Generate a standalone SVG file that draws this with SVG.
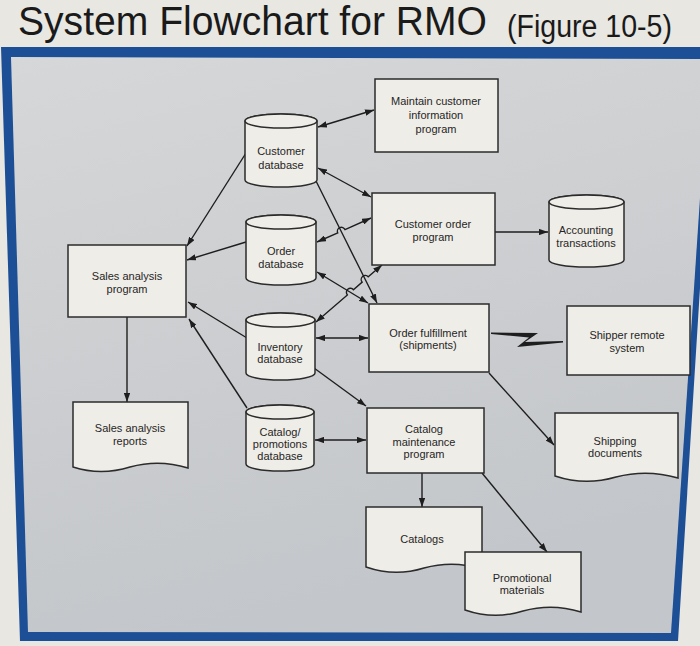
<svg xmlns="http://www.w3.org/2000/svg" width="700" height="646" viewBox="0 0 700 646">
<defs>
<linearGradient id="bg" x1="0" y1="0" x2="0.3" y2="1">
<stop offset="0" stop-color="#d6d7d8"/>
<stop offset="1" stop-color="#c3c6ca"/>
</linearGradient>
<marker id="ah" viewBox="0 0 10 7" refX="10" refY="3.5" markerWidth="9" markerHeight="6.5" markerUnits="userSpaceOnUse" orient="auto-start-reverse">
<path d="M0,0 L10,3.5 L0,7 z" fill="#1e1e1e"/>
</marker>
</defs>
<style>
.box{fill:#efede7;stroke:#2b2b2b;stroke-width:1.5}
.lbl{font-family:"Liberation Sans",Arial,sans-serif;font-size:11px;fill:#262626;text-anchor:middle}
.cn{fill:none;stroke:#1e1e1e;stroke-width:1.4}
.a2{marker-start:url(#ah);marker-end:url(#ah)}
.a1{marker-end:url(#ah)}
</style>
<rect width="700" height="646" fill="#e8e7e2"/>
<polygon points="1,47 700,47 700,288 678,641 20,641" fill="#1c4f96"/>
<polygon points="11,57 700,59 700,198 671,633 28,632" fill="url(#bg)"/>
<text x="18" y="35" font-family="Liberation Sans, Arial, sans-serif" font-size="40" fill="#1a1a1a" textLength="469" lengthAdjust="spacingAndGlyphs">System Flowchart for RMO</text>
<text x="507" y="37" font-family="Liberation Sans, Arial, sans-serif" font-size="31" fill="#1a1a1a" textLength="165" lengthAdjust="spacingAndGlyphs">(Figure 10-5)</text>

<g id="connectors">
<line class="cn a2" x1="318" y1="127" x2="374" y2="110"/>
<line class="cn a2" x1="318" y1="168" x2="371" y2="197"/>
<path class="cn a2" d="M317,242 L337.74,232.92 A4,4 0 0 1 345.06,229.68 L371,218"/>
<line class="cn a1" x1="316" y1="181" x2="377" y2="303"/>
<line class="cn a2" x1="317" y1="272" x2="368" y2="303"/>
<path class="cn a2" d="M316,322 L347.37,294.92 A4,4 0 0 1 353.43,289.68 L362.17,282.12 A4,4 0 0 1 368.23,276.88 L382,265"/>
<line class="cn a2" x1="316" y1="338" x2="368" y2="338"/>
<line class="cn a1" x1="314" y1="368" x2="366" y2="406"/>
<line class="cn a2" x1="315" y1="440" x2="366" y2="440"/>
<line class="cn a1" x1="489" y1="373" x2="554" y2="445"/>
<line class="cn a1" x1="422" y1="473" x2="422" y2="507"/>
<line class="cn a1" x1="482" y1="473" x2="547" y2="552"/>
<line class="cn a1" x1="495" y1="232" x2="548" y2="232"/>
<line class="cn a1" x1="246" y1="153" x2="187" y2="246"/>
<line class="cn a1" x1="246" y1="242" x2="187" y2="260"/>
<line class="cn a1" x1="247" y1="338" x2="188" y2="302"/>
<line class="cn a1" x1="247" y1="408" x2="189" y2="319"/>
<line class="cn a1" x1="127" y1="317" x2="127" y2="402"/>
<polygon points="491,332.5 538,333 525,342 563,341 563,342.5 517,347 529,337.5 491,334" fill="#1e1e1e"/>
</g>

<g id="maintain-customer">
<rect class="box" x="375" y="79" width="123" height="73"/>
<text class="lbl" x="436" y="105">Maintain customer</text>
<text class="lbl" x="436" y="119">information</text>
<text class="lbl" x="436" y="133">program</text>
</g>
<g id="customer-db">
<path class="box" d="M245,121 A36,7 0 0 1 317,121 V180 A36,7 0 0 1 245,180 Z"/>
<ellipse class="box" cx="281" cy="121" rx="36" ry="7"/>
<text class="lbl" x="281" y="155">Customer</text>
<text class="lbl" x="281" y="169">database</text>
</g>
<g id="order-db">
<path class="box" d="M246,222 A35,7 0 0 1 316,222 V278 A35,7 0 0 1 246,278 Z"/>
<ellipse class="box" cx="281" cy="222" rx="35" ry="7"/>
<text class="lbl" x="281" y="255">Order</text>
<text class="lbl" x="281" y="268">database</text>
</g>
<g id="inventory-db">
<path class="box" d="M246,320 A34.5,7 0 0 1 315,320 V373 A34.5,7 0 0 1 246,373 Z"/>
<ellipse class="box" cx="280.5" cy="320" rx="34.5" ry="7"/>
<text class="lbl" x="280" y="351">Inventory</text>
<text class="lbl" x="280" y="363">database</text>
</g>
<g id="catalog-db">
<path class="box" d="M246,412 A34,7 0 0 1 314,412 V464 A34,7 0 0 1 246,464 Z"/>
<ellipse class="box" cx="280" cy="412" rx="34" ry="7"/>
<text class="lbl" x="280" y="436">Catalog/</text>
<text class="lbl" x="280" y="448">promotions</text>
<text class="lbl" x="280" y="460">database</text>
</g>
<g id="sales-program">
<rect class="box" x="68" y="245" width="118" height="72"/>
<text class="lbl" x="127" y="280">Sales analysis</text>
<text class="lbl" x="127" y="293">program</text>
</g>
<g id="sales-reports">
<path class="box" d="M73,402 H188 V468 Q159,459 130,467 Q101,476 73,467 Z"/>
<text class="lbl" x="130" y="432">Sales analysis</text>
<text class="lbl" x="130" y="445">reports</text>
</g>
<g id="customer-order">
<rect class="box" x="372" y="193" width="123" height="72"/>
<text class="lbl" x="433" y="228">Customer order</text>
<text class="lbl" x="433" y="241">program</text>
</g>
<g id="accounting">
<path class="box" d="M549,202 A37.5,7 0 0 1 624,202 V260 A37.5,7 0 0 1 549,260 Z"/>
<ellipse class="box" cx="586.5" cy="202" rx="37.5" ry="7"/>
<text class="lbl" x="586" y="234">Accounting</text>
<text class="lbl" x="586" y="247">transactions</text>
</g>
<g id="order-fulfillment">
<rect class="box" x="369" y="304" width="120" height="68"/>
<text class="lbl" x="428" y="337">Order fulfillment</text>
<text class="lbl" x="428" y="349">(shipments)</text>
</g>
<g id="shipper">
<rect class="box" x="567" y="306" width="123" height="69"/>
<text class="lbl" x="627" y="339">Shipper remote</text>
<text class="lbl" x="627" y="352">system</text>
</g>
<g id="catalog-maintenance">
<rect class="box" x="367" y="408" width="117" height="65"/>
<text class="lbl" x="424" y="433">Catalog</text>
<text class="lbl" x="424" y="446">maintenance</text>
<text class="lbl" x="424" y="458">program</text>
</g>
<g id="shipping-docs">
<path class="box" d="M555,413 H678 V478 Q647,469 616,477 Q585,486 555,476 Z"/>
<text class="lbl" x="615" y="445">Shipping</text>
<text class="lbl" x="615" y="457">documents</text>
</g>
<g id="catalogs">
<path class="box" d="M366,507 H482 V569 Q453,560 424,568 Q395,577 366,567 Z"/>
<text class="lbl" x="422" y="543">Catalogs</text>
</g>
<g id="promotional">
<path class="box" d="M465,552 H581 V612 Q552,603 523,611 Q494,620 465,610 Z"/>
<text class="lbl" x="522" y="582">Promotional</text>
<text class="lbl" x="522" y="594">materials</text>
</g>
</svg>
